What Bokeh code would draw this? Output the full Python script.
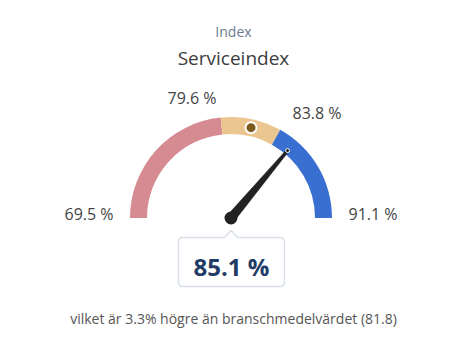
import numpy as np
from bokeh.plotting import figure
from bokeh.models import Range1d
from bokeh.core.properties import value
from bokeh.embed import file_html
from bokeh.resources import INLINE

# ---- data ----
gauge_min = 69.5
gauge_max = 91.1
band_edges = [69.5, 79.6, 83.8, 91.1]
band_colors = ["#d68a92", "#ebc690", "#3a6fd2"]
edge_labels = ["69.5 %", "79.6 %", "83.8 %", "91.1 %"]
score = 85.1
industry_avg = 81.8
title_small = "Index"
title_main = "Serviceindex"
score_label = "85.1 %"
footnote = "vilket är 3.3% högre än branschmedelvärdet (81.8)"

W, H = 474, 355
FONT = "Open Sans"

p = figure(width=W, height=H, output_backend="svg", toolbar_location=None,
           x_range=Range1d(0, W), y_range=Range1d(0, H), min_border=0)
p.axis.visible = False
p.grid.visible = False
p.outline_line_color = None
p.background_fill_color = "white"
p.border_fill_color = "white"

cx, cy = 230.5, H - 217.5
r_in, r_out = 84, 101


def ang(v):
    return np.pi * (1 - (v - gauge_min) / (gauge_max - gauge_min))


# bands
for i, col in enumerate(band_colors):
    p.annular_wedge(x=cx, y=cy, inner_radius=r_in, outer_radius=r_out,
                    start_angle=ang(band_edges[i + 1]), end_angle=ang(band_edges[i]),
                    fill_color=col, line_color=None, direction="anticlock")

# edge labels
lab_pos = [(88.5, H - 213), (191.5, H - 97), (316.5, H - 112), (372.5, H - 213)]
for txt, (lx, ly) in zip(edge_labels, lab_pos):
    p.text(x=[lx], y=[ly], text=[txt], text_font=value(FONT), text_font_size="16px",
           text_color="#444444", text_align="center", text_baseline="middle")

# industry marker
a = ang(industry_avg)
rm = (r_in + r_out) / 2
p.scatter(x=[cx + rm * np.cos(a)], y=[cy + rm * np.sin(a)], size=11,
          fill_color="#7b5a1c", line_color="white", line_width=2)

# needle
a = ang(score)
d = np.array([np.cos(a), np.sin(a)])
n = np.array([-np.sin(a), np.cos(a)])
c = np.array([cx, cy])
L = 88
pts = [c + n * 4.5, c + d * L + n * 1.4, c + d * L - n * 1.4, c - n * 4.5]
p.patch(x=[q[0] for q in pts], y=[q[1] for q in pts], fill_color="#222222",
        line_color="#222222", line_width=0.5)
tip = c + d * L
p.scatter(x=[tip[0]], y=[tip[1]], size=4, fill_color="#222222", line_color="white", line_width=1)
p.scatter(x=[cx], y=[cy], size=13, fill_color="#222222", line_color=None)

# value box with notch and rounded corners
x0, x1 = 178, 284
yt, yb = H - 237, H - 286
rr = 4
notch_w, notch_h = 6.5, 7
bx, by = [], []


def arc(xc, yc, a0, a1):
    for t in np.linspace(a0, a1, 6):
        bx.append(xc + rr * np.cos(t))
        by.append(yc + rr * np.sin(t))


arc(x0 + rr, yt - rr, np.pi, np.pi / 2)
bx += [cx - notch_w, cx, cx + notch_w]
by += [yt, yt + notch_h, yt]
arc(x1 - rr, yt - rr, np.pi / 2, 0)
arc(x1 - rr, yb + rr, 0, -np.pi / 2)
arc(x0 + rr, yb + rr, -np.pi / 2, -np.pi)
p.patch(x=bx, y=by, fill_color="white", line_color="#d9e0e8", line_width=1.5)
p.text(x=[(x0 + x1) / 2], y=[H - 266], text=[score_label], text_font=value(FONT),
       text_font_size="24px", text_font_style="bold", text_color="#1f3b66",
       text_align="center", text_baseline="middle")

# titles
p.text(x=[233], y=[H - 31], text=[title_small], text_font=value(FONT), text_font_size="14px",
       text_color="#6b7b90", text_align="center", text_baseline="middle")
p.text(x=[233], y=[H - 57], text=[title_main], text_font=value(FONT), text_font_size="19px",
       text_color="#3d3d3d", text_align="center", text_baseline="middle")

# footnote
p.text(x=[233], y=[H - 318], text=[footnote], text_font=value(FONT), text_font_size="14px",
       text_color="#555555", text_align="center", text_baseline="middle")

open("out.html", "w").write(file_html(p, INLINE))
